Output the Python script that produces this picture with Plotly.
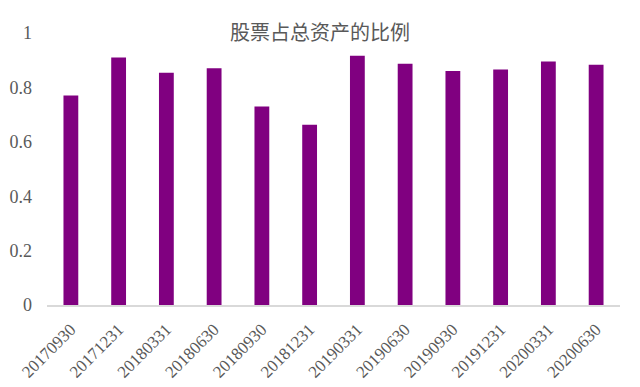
import plotly.graph_objects as go

categories = ["20170930", "20171231", "20180331", "20180630", "20180930", "20181231",
              "20190331", "20190630", "20190930", "20191231", "20200331", "20200630"]
values = [0.770, 0.910, 0.854, 0.870, 0.730, 0.663, 0.916, 0.887, 0.860, 0.866, 0.895, 0.883]
y_ticks = [0, 0.2, 0.4, 0.6, 0.8, 1]
y_tick_text = ["0", "0.2", "0.4", "0.6", "0.8", "1"]
title_text = "股票占总资产的比例"

serif = "Liberation Serif"

fig = go.Figure(go.Bar(x=categories, y=values, marker=dict(color="#800080", line=dict(width=0)),
                       width=0.31))

fig.update_layout(
    width=640, height=387,
    margin=dict(l=47, r=20, t=33, b=82),
    paper_bgcolor="white", plot_bgcolor="white",
    showlegend=False,
    title=dict(text=title_text, x=0.5, xanchor="center", y=1 - 32.5 / 387, yanchor="middle",
               font=dict(family="Noto Sans CJK SC", size=20, color="#595959")),
    font=dict(family=serif, color="#595959"),
)
fig.update_xaxes(type="category", tickangle=-45, showgrid=False, showline=True,
                 linecolor="#d9d9d9", linewidth=1.5, ticks="", zeroline=False,
                 ticklabelstandoff=6, automargin=False,
                 tickfont=dict(family=serif, size=17, color="#595959"))
fig.update_yaxes(range=[0, 1], tickvals=y_ticks, ticktext=y_tick_text, showgrid=False,
                 showline=False, zeroline=False, ticks="", ticklabelstandoff=14, automargin=False,
                 tickfont=dict(family=serif, size=18, color="#595959"))

fig.write_html("out.html")
